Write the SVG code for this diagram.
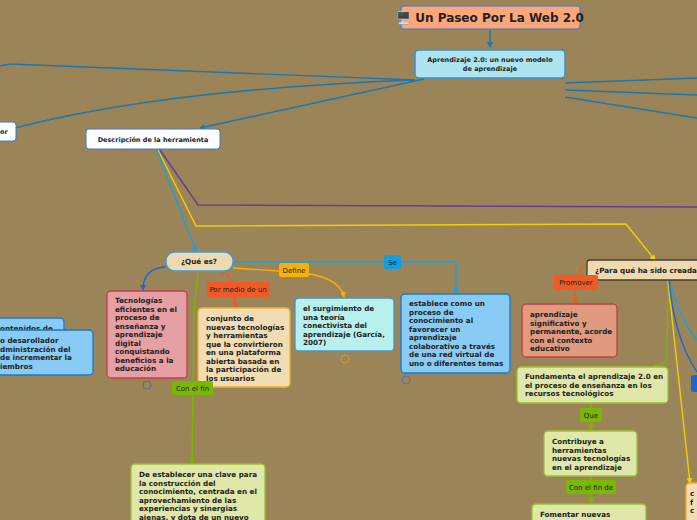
<svg xmlns="http://www.w3.org/2000/svg" width="697" height="520" viewBox="0 0 697 520">
<defs>
<style>
text{font-family:"DejaVu Sans","Liberation Sans",sans-serif;font-weight:bold;font-size:7.2px;fill:#222}
.lbl{font-weight:normal;font-size:7px}
.c{fill:none;stroke-width:1.4}
</style>
<marker id="a" markerWidth="6" markerHeight="6" refX="5" refY="3" orient="auto" markerUnits="userSpaceOnUse"><path d="M0,0L6,3L0,6z" fill="context-stroke"/></marker>
</defs>
<rect width="697" height="520" fill="#9c8459"/>
<g id="connectors">
<path class="c" stroke="#1a78b0" d="M490,30V47" marker-end="url(#a)"/>
<path class="c" stroke="#1a78b0" d="M415,80L10,64L0,66"/>
<path class="c" stroke="#1a78b0" d="M415,80Q150,90 0,132"/>
<path class="c" stroke="#1a78b0" d="M565,83L697,78M565,90L697,95M565,97L697,118"/>
<path class="c" stroke="#1a78b0" d="M424,79L200,128" marker-end="url(#a)"/>
<path class="c" stroke="#6a3a9a" d="M160,150L198,205L697,207"/>
<path class="c" stroke="#f0d000" d="M158,150L196,226L626,224L655,260" marker-end="url(#a)"/>
<path class="c" stroke="#1aa0e0" d="M157,150L196,251" marker-end="url(#a)"/>
<path class="c" stroke="#1a68d0" d="M166,267Q143,268 143,290" marker-end="url(#a)"/>
<path class="c" stroke="#f05a24" d="M221,272Q236,276 235,307" marker-end="url(#a)"/>
<path class="c" stroke="#f9b000" d="M233,268L295,272Q340,276 344,297" marker-end="url(#a)"/>
<path class="c" stroke="#1aa0e0" d="M233,262H456V293" marker-end="url(#a)"/>
<path class="c" stroke="#7ab800" d="M198,271L194,310L192,463" marker-end="url(#a)"/>
<path class="c" stroke="#f05a24" d="M587,265Q575,266 575,303" marker-end="url(#a)"/>
<path class="c" stroke="#7ab800" d="M668,281L667,355Q667,366 652,367" marker-end="url(#a)"/>
<path class="c" stroke="#f0d000" d="M668,281L690,483" marker-end="url(#a)"/>
<path class="c" stroke="#1aa0e0" d="M670,281Q680,320 697,340"/>
<path class="c" stroke="#1a68d0" d="M669,281Q675,340 697,372"/>
<path class="c" stroke="#7ab800" d="M591,403V430" marker-end="url(#a)"/>
<path class="c" stroke="#7ab800" d="M591,476V503" marker-end="url(#a)"/>
</g>
<g id="title"><rect x="401" y="6" width="179" height="23" rx="3" fill="#fca67a" stroke="#3a78d0"/><text x="490" y="22" text-anchor="middle" style="font-size:12px">🖥️ Un Paseo Por La Web 2.0</text></g>
<g id="aprendizaje"><rect x="415" y="50" width="150" height="28" rx="4" fill="#ade4ef" stroke="#3a8fd1" stroke-width="1.5"/><text x="490" y="62" text-anchor="middle" style="font-size:6.5px">Aprendizaje 2.0: un nuevo modelo</text><text x="490" y="71" text-anchor="middle" style="font-size:6.5px">de aprendizaje</text></g>
<g id="or"><rect x="-10" y="122" width="26" height="19" rx="3" fill="#fff" stroke="#3a78d0"/><text x="0" y="134" style="font-size:6.5px">or</text></g>
<g id="descripcion"><rect x="86" y="129" width="134" height="20" rx="3" fill="#fff" stroke="#3a78d0"/><text x="153" y="142" text-anchor="middle" style="font-size:6.5px">Descripción de la herramienta</text></g>
<g id="quees"><rect x="166" y="252" width="67" height="19" rx="9" fill="#eed9b0" stroke="#3a9fd8" stroke-width="1.3"/><text x="199" y="264" text-anchor="middle">¿Qué es?</text></g>
<g id="tecnologias"><rect x="107" y="291" width="80" height="87" rx="4" fill="#e6a0a4" stroke="#c0404a" stroke-width="1.3"/>
<text x="115" y="303">Tecnologías</text><text x="115" y="311.5">eficientes en el</text><text x="115" y="320">proceso de</text><text x="115" y="328.5">enseñanza y</text><text x="115" y="337">aprendizaje</text><text x="115" y="345.5">digital</text><text x="115" y="354">conquistando</text><text x="115" y="362.5">beneficios a la</text><text x="115" y="371">educación</text>
<circle cx="147" cy="385" r="4" fill="none" stroke="#5a6a8a"/></g>
<g id="pormedio"><rect x="207" y="282" width="63" height="15" rx="2" fill="#f05a24"/><text class="lbl" x="238" y="292" text-anchor="middle">Por medio de un</text></g>
<g id="conjunto"><rect x="198" y="308" width="92" height="79" rx="4" fill="#f2dcb4" stroke="#f0b030" stroke-width="1.3"/>
<text x="206" y="321">conjunto de</text><text x="206" y="329.5">nuevas tecnologías</text><text x="206" y="338">y herramientas</text><text x="206" y="346.5">que la convirtieron</text><text x="206" y="355">en una plataforma</text><text x="206" y="363.5">abierta basada en</text><text x="206" y="372">la participación de</text><text x="206" y="380.5">los usuarios</text></g>
<g id="define"><rect x="279" y="263" width="30" height="14" rx="2" fill="#f9b000"/><text class="lbl" x="294" y="273" text-anchor="middle">Define</text></g>
<g id="surgimiento"><rect x="295" y="298" width="99" height="53" rx="4" fill="#b8f0ee" stroke="#4a90c8" stroke-width="1.3"/>
<text x="303" y="311">el surgimiento de</text><text x="303" y="319.5">una teoría</text><text x="303" y="328">conectivista del</text><text x="303" y="336.5">aprendizaje (García,</text><text x="303" y="345">2007)</text>
<circle cx="345" cy="359" r="4" fill="none" stroke="#c8a030"/></g>
<g id="se"><rect x="384" y="255" width="17" height="14" rx="2" fill="#10a0e0"/><text class="lbl" x="392.5" y="265" text-anchor="middle">Se</text></g>
<g id="establece"><rect x="401" y="294" width="109" height="79" rx="4" fill="#88ccf5" stroke="#1a78d0" stroke-width="1.3"/>
<text x="409" y="306">establece como un</text><text x="409" y="314.5">proceso de</text><text x="409" y="323">conocimiento  al</text><text x="409" y="331.5">favorecer un</text><text x="409" y="340">aprendizaje</text><text x="409" y="348.5">colaborativo a través</text><text x="409" y="357">de una red virtual de</text><text x="409" y="365.5">uno o diferentes temas</text>
<circle cx="406" cy="380" r="4" fill="none" stroke="#4a7a9a"/></g>
<g id="confin"><rect x="172" y="381" width="41" height="14" rx="2" fill="#7ab800"/><text class="lbl" x="192.5" y="391" text-anchor="middle">Con el fin</text></g>
<g id="establecer"><rect x="131" y="464" width="134" height="70" rx="4" fill="#dfe8a8" stroke="#9ac030" stroke-width="1.3"/>
<text x="139" y="477">De establecer una  clave para</text><text x="139" y="485.5">la construcción del</text><text x="139" y="494">conocimiento, centrada en el</text><text x="139" y="502.5">aprovechamiento de las</text><text x="139" y="511">experiencias y sinergias</text><text x="139" y="519.5">ajenas, y dota de un nuevo</text></g>
<g id="contenidos"><rect x="-10" y="318" width="74" height="24" rx="4" fill="#88ccf5" stroke="#1a78d0" stroke-width="1.3"/><text x="0" y="331">ontenidos de</text></g>
<g id="desarollador"><rect x="-10" y="330" width="103" height="45" rx="4" fill="#88ccf5" stroke="#1a78d0" stroke-width="1.3"/>
<text x="0" y="343">o desarollador</text><text x="0" y="351.5">dministración del</text><text x="0" y="360">de incrementar la</text><text x="0" y="368.5">iembros</text></g>
<g id="paraque"><rect x="587" y="260" width="115" height="20" rx="3" fill="#eed9b0" stroke="#4a3a2a" stroke-width="1.3"/><text x="595" y="273">¿Para qué ha sido creada?</text></g>
<g id="promover"><rect x="554" y="275" width="44" height="15" rx="2" fill="#f05a24"/><text class="lbl" x="576" y="285" text-anchor="middle">Promover</text></g>
<g id="significativo"><rect x="522" y="304" width="95" height="53" rx="4" fill="#e09a80" stroke="#c04040" stroke-width="1.3"/>
<text x="530" y="317">aprendizaje</text><text x="530" y="325.5">significativo y</text><text x="530" y="334">permanente, acorde</text><text x="530" y="342.5">con el contexto</text><text x="530" y="351">educativo</text></g>
<g id="fundamenta"><rect x="517" y="367" width="151" height="36" rx="4" fill="#dfe8a8" stroke="#9ac030" stroke-width="1.3"/>
<text x="525" y="379">Fundamenta el aprendizaje 2.0 en</text><text x="525" y="387.5">el proceso de enseñanza en los</text><text x="525" y="396">recursos tecnológicos</text></g>
<g id="que"><rect x="580" y="408" width="22" height="14" rx="2" fill="#7ab800"/><text class="lbl" x="591" y="418" text-anchor="middle">Que</text></g>
<g id="contribuye"><rect x="544" y="431" width="93" height="45" rx="4" fill="#dfe8a8" stroke="#9ac030" stroke-width="1.3"/>
<text x="552" y="444">Contribuye a</text><text x="552" y="452.5">herramientas</text><text x="552" y="461">nuevas tecnologías</text><text x="552" y="469.5">en el aprendizaje</text></g>
<g id="confinde"><rect x="566" y="480" width="50" height="14" rx="2" fill="#7ab800"/><text class="lbl" x="591" y="490" text-anchor="middle">Con el fin de</text></g>
<g id="fomentar"><rect x="532" y="504" width="114" height="30" rx="4" fill="#dfe8a8" stroke="#9ac030" stroke-width="1.3"/><text x="540" y="517">Fomentar nuevas</text></g>
<g id="rightyellow"><rect x="686" y="483" width="20" height="50" rx="4" fill="#f2dcb4" stroke="#f0b030" stroke-width="1.3"/><text x="690" y="496">c</text><text x="690" y="504.5">f</text><text x="690" y="513">c</text></g>
<g id="rightblue"><rect x="691" y="375" width="10" height="17" rx="2" fill="#1a68d0"/></g>
</svg>
